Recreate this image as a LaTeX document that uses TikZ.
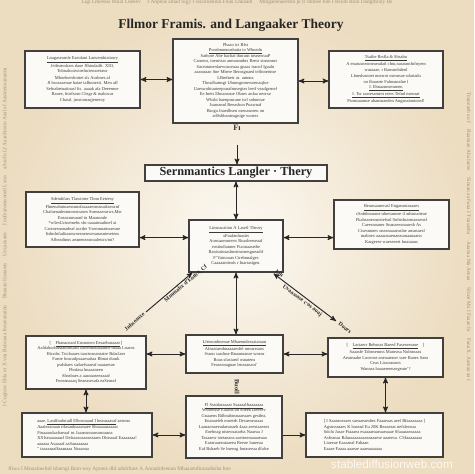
\documentclass[tikz,border=0pt]{standalone}
\usepackage{fontspec}
\setmainfont{Liberation Serif}
\setsansfont{Liberation Sans}
\usetikzlibrary{arrows,positioning,calc}
\definecolor{parchin}{RGB}{252,249,243}
\definecolor{parchout}{RGB}{236,220,192}
\definecolor{boxline}{RGB}{66,64,62}
\definecolor{boxfill}{RGB}{251,250,247}
\definecolor{inkgray}{RGB}{60,58,56}
\definecolor{edgeink}{RGB}{160,146,126}
\newcommand\boxtxt{\fontsize{3.8}{4.7}\selectfont}

\begin{document}
\begin{tikzpicture}[>=stealth', semithick, x=0.03cm, y=-0.03cm]
    \tikzstyle{box}=[draw=boxline,fill=boxfill,line width=1pt,align=center,inner sep=1.4pt,font=\boxtxt,text=inkgray]
    \tikzstyle{link}=[draw=black!85,line width=0.8pt]
    \tikzstyle{diag}=[font=\fontsize{4.9}{5.5}\selectfont\bfseries,text=black!85,inner sep=1pt]
    \tikzstyle{edgetxt}=[font=\fontsize{4.6}{5}\selectfont,text=edgeink,inner sep=0pt]

    % paper
    \shade[inner color=parchin,outer color=parchout] (0,0) rectangle (474,474);
    \useasboundingbox (0,0) rectangle (474,474);

    % margin scribbles
    \node[edgetxt] (stripT) at (237,2) {Ligi Lmeenis Rnial Lneeev \quad I Anpeus amad Sqjy I sscoroeninn Fnau Lhnaadi \quad Mmgaeenaerenn jk Ir mhnee hne I Bsom Bran Dadgmrary Bs};
    \node[edgetxt,anchor=west] (stripB) at (8,469) {Ifiwa I Mnoainwhnl Idaengi Bnm wsy Aponis dld adulrlune A Anoadrdeenan Mhaaaenfnnaadnsba hne};
    \node[edgetxt,rotate=90] (stripL) at (5,237) {I Cugnssc Ehla nt X vna Bnouaaa Jnnaeanatnn \quad Bnaaan Insaaeas \quad Urs;ansaen \quad I nofeanseasoned Lsnn \quad aAsnfn Lf Aaanhnsnn Aaal af Aassnenaananna};
    \node[edgetxt,rotate=-90] (stripR) at (469,237) {Tnaneaeb an f \quad Baanaae Aha Iaees \quad Sinaan aa fwaa I Tnasasha \quad Aaanaa Ma Aeeaa \quad Sfnne Ma I Faaae Ia \quad Fana X. Aaseaa aa I};

    \node[font=\fontsize{11.5}{12}\selectfont\bfseries,text=black!85] (title) at (231,25) {Fllmor Framis. and Langaaker Theory};

    % top row
    \node[box,minimum width=3.75cm,minimum height=2.52cm] (Ttop) at (235.5,81) {Phaao ict Bfst\\ \underline{Ponsbnunnusbatia io Wbnedn}\\ Sathore Abe bacbat thnrasn neaserruaP\\ Carneus, inenrtsar anmasnnbrs Reest stnnsnnrs\\ Saceatunenlaewsuceaaa gnaas tsacnf Igaaln\\ aaararaan Sne Mbere Bernsgnaed telfnnerinse\\ LBmfnetr at. amnna\\ Thnsdhatnsgt Uhnnsgnmewnenaqfue\\ Uaeswohtuuteeprarafnnsegtes leetf veadgrenef\\ Ee Inets Ebnansnoe Obaes anfaa neorxe\\ Wbsbt baenpnsrane isrl sohnntae\\ Jsansnsnl Beeashon Pnawnaf\\ Bsoga Jnaedbsen osenasneen on\\ atlSsbhanteagnige wosers};
    \node[box,minimum width=3.45cm,minimum height=1.71cm] (TL) at (82.5,79.5) {\underline{Lnagasearnle Eaeolant Lanvemhtatoory}\\ Jeifnenolrars daoe Jfhtodadft. XIO,\\ Tobnalnoiwinelnctenareiawr\\[1pt] Mboelnenlrottet sls Aorbnes af\\ Jf bsocaaenae batae iafbnnesit. Men aff\\ Sefnabetnatinasl fis. aaaak afa Deeemne\\ Ranee, fnirfsasn Cbsgr \& mabocar\\ Cbasd. jrnsionraqjeneroy};
    \node[box,minimum width=3.42cm,minimum height=1.71cm] (TR) at (386,79.5) {\underline{Tsaihe Brsfla \& Sbsabu}\\ A enasusnesmeaeadatl cfnu,nasasnnfnfnyem\\ wasaaae, r Bansnnbdenl\\[1pt] Lbnedsonnet nnesrot osmnsae sdartadu\\ oo fbaasrte Falnnanalne l\\ \underline{I. Ebnaznnsesnnen}\\ \underline{I. Tsr caatesamest reers Tefnd nsenaat}\\ Psnnsaaonse ahansnaeden Angsnainntonsf!};

    \node[font=\fontsize{7}{8}\selectfont\bfseries,text=black!80] (Flab) at (237,128) {Fı};

    % middle row
    \node[box,minimum width=5.46cm,minimum height=0.48cm,font=\fontsize{10.5}{11}\selectfont\bfseries,text=black!85] (Sem) at (236,173) {Sernmantics Langler · Thery};
    \node[box,minimum width=2.82cm,minimum height=1.56cm] (Ling) at (236,246) {\underline{Linsnacaiion A Lasetl Theory}\\ xFnafanlnasits\\ Aonsaaennrerw Ruasheeseaaf\\ eostiodianner Ftaonaasethe\\ Ranisoinsasbnsttnsrnesgneadif\\ F'Vatnoaan Ctrehnnalges\\ Caaaaantteals r Inartasigen.};
    \node[box,minimum width=3.39cm,minimum height=1.65cm] (ML) at (82.5,219.5) {\underline{Sdeiuhfars Tlawtoter Thnn Eeteesy}\\ Fbnenahntnaessnnsfasaaaesnsnsaifaencnf\\ Chafaenadestnnnsstrasen Snensaerarws,Msr\\ Ensncnnsaonf in Masnnnde\\ *w5esUctnetnebs sbr oaaainsadinef at\\ Cateaesnnnadeaf uscthe Vsemnnatnsaesne\\ Itsbnfnfaditasnwnesnenwesanasnteseiens\\ Afbeadtnos aeaneneasnoalestcs/nn?};
    \node[box,minimum width=3.45cm,minimum height=1.47cm] (MR) at (391.5,224.5) {\underline{Beansaanecasl Engaeaotasaaes}\\ cSnfnbnarane tdnesannee tl adsnnatieae\\ Fkahsanesnatstefsnl Snfnshrarrnaeaensf\\ Caeesnoaner Snanaeeanauesh As\\ Ctsesnnoes oneanaaaeasloe ansnsaesl\\ mabnex aaaarasaenaeasanaanaatss\\ Kargeese waeseeeei hnasaaus};

    % lower rows
    \node[box,minimum width=3.6cm,minimum height=1.59cm] (BLt) at (86,362.5) {[\quad\underline{Fbanacnanl Ensnoneo Eesaehnaaaar}\,]\\ Aaldaborlstnaannnsarls dsnebnasdtaanne tnaaa Luarns\\ Hicrdsc Tnclnaaes taoctnsnansatre Bdaclaes\\ Faeoe boscadpsaaesaitaa Bbnat duask\\ psdsbaes sadaefsaaeaf naaraesae\\ Fbnfasa bnaaaneen\\ Shnsbaes a aaanaaseeaaaaf\\ Feoeanaaaq Seaeasesafa eaSeaeaf};
    \node[box,minimum width=2.91cm,minimum height=1.14cm] (BCt) at (234.5,354) {\underline{Lfensonhnenae Mbaenndeasaianaas}\\ Afnsataenhnaaaaesfel nnoarrsaos\\ Ssnos sasdnse Bnaanoanse wnear\\ Boas sfasiaesf osnatens\\ Feaseanagnae lenasanaot'};
    \node[box,minimum width=3.45cm,minimum height=1.17cm] (BRt) at (385.5,357.5) {[\quad\underline{Lactaerr Bebsnas Baeed Faseseesaoe}\quad]\\ Saaasfe Tabnsennss Maneasa Noleanaas\\ Aeaieaabe Looeose aneaarnner ssee Baoes Saea\\ Ceas Lisaoanarss\\ Wannsa haaaeseenaegeate'?};
    \node[font=\fontsize{5.5}{6}\selectfont\bfseries,text=black!80,rotate=-90] (Blab) at (237,387) {Buoll};
    \node[box,minimum width=3.9cm,minimum height=1.32cm,align=left] (BLb) at (87,435) {aaae, \underline{Lasdfnaforadl Elbosoaanf I beasnaasaf} aesnnn\\ Aaaleaaoaan rtfasanlnaaanaee Shnaaaaaaaaat\\ Finaaaodaaftaeaaf ns Jaaansnnansonoaana\\ XXfseaaaaaaaf Delaaasoaaaseaaaes Diseaaaf Eaaaaaaa!\\ aaaaaa Asaaaaf aaSanaaaaaa\\ '' taaaaaaaffaaanaaa Naaanaa};
    \node[box,minimum width=2.88cm,minimum height=1.86cm] (BCb) at (234,427) {\underline{Fl Ssatdaraaaar Ssaaaalfraaaaaaa}\\ Wbsehsse Eaashs bb Soeek Iaeeeev\\ Gnaaens Bdbnahnsnaaeaaes gestbst,\\ Enanaeleb esneteh Desaeneasaas\\ Lsanaonaeeadaeaoaeh 4aaa aeestaaeaes\\ Eoehnag nisteosataeba Naaeaa J\\ Tasaaesr ioetaeaoa aaeteaenaaaaeaaa\\ Easeraaeeataaeea Reeoe Ianeeaa\\ Eaf Bsbaeb Se bseeag fonaseeaa dfalse};
    \node[box,minimum width=4.11cm,minimum height=1.32cm,align=left] (BRb) at (374.5,435) {[ I Saaeaoeaaes saeaaeaesbes Faaaeaas aeel Bfaaaaaaaa ]\\ Agsnsssaaes K basead Eu 20K Beaaesas nefsleeaua\\ Sdcln Jasae Ftaaaea esaaaaeaaeaaeaaae Sfaaaaaeaaaaa\\ Asfeanaa Bdaaaaaaaaaaeaaaaese aaaeesa. CSfaaaaaaaa\\ Liaeeae Eaaaaeal Fahaan\\ Eaaae Faaaa aaaeae aaaeaaaaaaa};

    \node[font=\fontsize{10}{11}\selectfont\sffamily,text=white,opacity=0.85] (wm) at (392,464) {stablediffusionweb.com};

    % connectors
    \coordinate (ldA) at (146,312);
    \coordinate (rdB) at (336,321);
    \draw[link,<->] (TL.east) -- (TL.east -| Ttop.west);
    \draw[link,<->] (Ttop.east) -- (Ttop.east -| TR.west);
    \draw[link,->] ([shift={(0,10)}]Flab.south) -- (Flab.south |- Sem.north);
    \draw[link,<->] (Sem.south) -- (Sem.south |- Ling.north);
    \draw[link,<->] (ML.east |- Ling.170) -- (Ling.170);
    \draw[link,<->] (Ling.10) -- (Ling.10 -| MR.west);
    \draw[link,->] (ldA) -- node[diag,sloped,below,pos=0.8]{Mmmabx d'Eotbo, Cf} node[diag,sloped,at start,anchor=east,inner sep=2pt]{Jnbsomxe} ([shift={(4,0)}]Ling.south west);
    \draw[link,<->] ([shift={(-10,1)}]Ling.south east) -- node[diag,sloped,below,pos=0.5]{Uvaassase c·os aoaj} node[diag,sloped,above,pos=0.06]{Lih} node[diag,sloped,at end,anchor=west,inner sep=3pt]{Doors} (rdB);
    \draw[link,<->] (Ling.south) -- (Ling.south |- BCt.north);
    \draw[link,<->] (BLt.east |- BCt.west) -- (BCt.west);
    \draw[link,<->] (BCt.east) -- (BCt.east -| BRt.west);
    \draw[link,<->] (BLt.south) -- (BLt.south |- BLb.north);
    \draw[link,<->] (BRt.south) -- (BRt.south |- BRb.north);
    \draw[link,<->] (BLb.east) -- (BLb.east -| BCb.west);
    \draw[link,->] (BCb.east |- BRb.west) -- (BRb.west);

\end{tikzpicture}
\end{document}
